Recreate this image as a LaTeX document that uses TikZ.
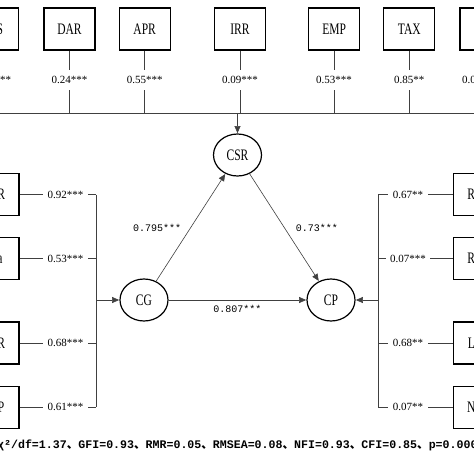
\documentclass[tikz,border=0pt]{standalone}
\usepackage{fontspec}
\setmainfont{Liberation Serif}
\newfontfamily\narrowfont[FakeStretch=0.72]{Liberation Serif}
\newfontfamily\pathfont{Liberation Mono}
\newfontfamily\cjk{Noto Sans CJK SC}
\newcommand{\dunhao}{{\cjk\fontsize{11.6pt}{13pt}\selectfont 、}}
\usetikzlibrary{shapes.geometric, arrows.meta, positioning}
\tikzset{
  indicator/.style={rectangle, draw=black, line width=1.2pt, minimum width=51pt, minimum height=42pt, inner sep=0pt, align=center, font=\narrowfont\fontsize{16}{18}\selectfont},
  latent/.style={ellipse, draw=black, line width=1.2pt, minimum width=48pt, minimum height=42pt, inner sep=0pt, font=\narrowfont\fontsize{16}{18}\selectfont},
  loading/.style={fill=white, inner xsep=4.5pt, inner ysep=6pt, font=\fontsize{11}{13}\selectfont},
  coef/.style={font=\pathfont\fontsize{10}{12}\selectfont},
  link/.style={draw=black!75, line width=0.6pt},
  arrow/.style={link, -{Triangle[length=7pt, width=6pt]}, shorten >=0.3pt}
}

\begin{document}
\begin{tikzpicture}[x=1pt, y=-1pt]
            \useasboundingbox (0,0) rectangle (474,474);
            \clip (0,0) rectangle (474,474);
            \node (dar) [indicator] at (69.5,29) {DAR};
            \node (cs1) [indicator, left=24pt of dar] {\phantom{SS}S};
            \node (apr) [indicator, right=23pt of dar] {APR};
            \node (irr) [indicator, right=43pt of apr] {IRR};
            \node (emp) [indicator, right=42pt of irr] {EMP};
            \node (tax) [indicator, right=23pt of emp] {TAX};
            \node (cs7) [indicator, right=24pt of tax] {C\phantom{CC}};
            \node (cg1) [indicator] at (-6.5,194.5) {\phantom{RR}R};
            \node (cg2) [indicator, below=21pt of cg1] {\phantom{RR}a\kern2.5pt};
            \node (cg3) [indicator, below=41pt of cg2] {\phantom{RR}R};
            \node (cg4) [indicator, below=21pt of cg3] {\phantom{RR}P};
            \node (cp1) [indicator] at (479,194.5) {R\phantom{RR}};
            \node (cp2) [indicator, below=21pt of cp1] {R\phantom{RR}};
            \node (cp3) [indicator, below=41pt of cp2] {L\phantom{RR}};
            \node (cp4) [indicator, below=21pt of cp3] {N\phantom{RR}};
            \node (csr) [latent] at (237.5,155) {CSR};
            \node (cg) [latent] at (144,300) {CG};
            \node (cp) [latent] at (331,300) {CP};
            \coordinate (bus) at (237.5,113);
            \coordinate (ljoin) at (96,300);
            \coordinate (rjoin) at (378,300);
            \foreach \t/\v in {cs1/{\phantom{0.00}***}, dar/0.24***, apr/0.55***, irr/0.09***, emp/0.53***, tax/0.85**, cs7/{0.0\phantom{00****}}}
              \draw [link] (\t.south) -- node[loading, pos=0.47] {\v} (\t.south |- bus);
            \draw [link] (cs1.south |- bus) -- (cs7.south |- bus);
            \draw [arrow] (bus) -- (csr);
            \foreach \b/\v in {cg1/0.92***, cg2/0.53***, cg3/0.68***, cg4/0.61***}
              \draw [link] (\b.east) -- node[loading, pos=0.6] {\v} (\b.east -| ljoin);
            \draw [link] (cg1.east -| ljoin) -- (cg4.east -| ljoin);
            \draw [arrow] (ljoin) -- (cg);
            \foreach \b/\v in {cp1/0.67**, cp2/0.07***, cp3/0.68**, cp4/0.07**}
              \draw [link] (\b.west -| rjoin) -- node[loading, pos=0.4] {\v} (\b.west);
            \draw [link] (cp1.west -| rjoin) -- (cp4.west -| rjoin);
            \draw [arrow] (rjoin) -- (cp);
            \draw [arrow] (cg) -- node[coef, midway, left=6pt] {0.795***} (csr);
            \draw [arrow] (csr) -- node[coef, midway, right=8pt] {0.73***} (cp);
            \draw [arrow] (cg) -- node[coef, midway, below=2pt] {0.807***} (cp);
            \node (fit) [anchor=west, font=\pathfont\bfseries\fontsize{11.6}{13}\selectfont, inner sep=0pt] at (-3,445) {χ²/df=1.37\dunhao GFI=0.93\dunhao RMR=0.05\dunhao RMSEA=0.08\dunhao NFI=0.93\dunhao CFI=0.85\dunhao p=0.000};
        \end{tikzpicture}
\end{document}
